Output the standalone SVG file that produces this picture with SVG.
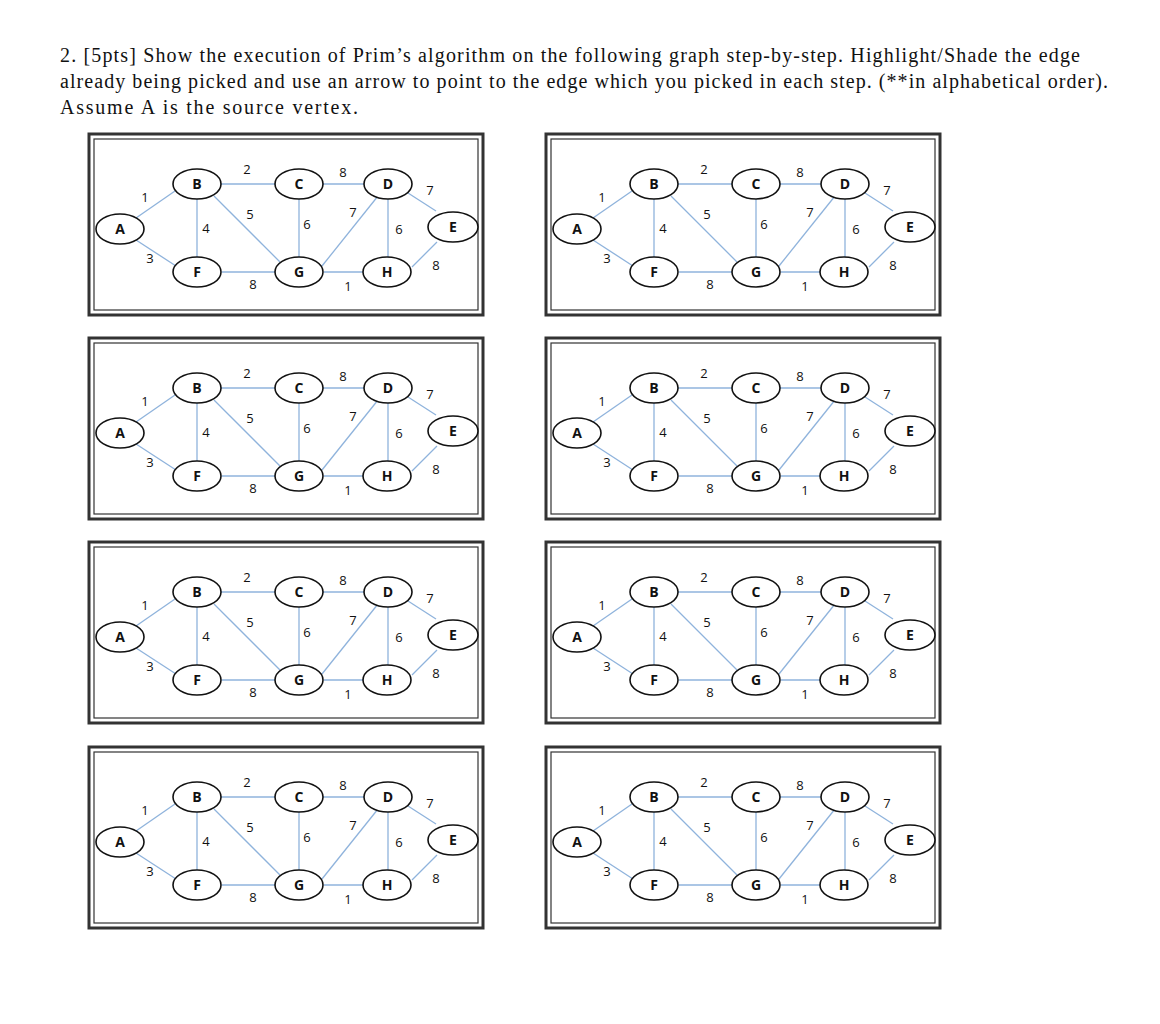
<svg xmlns="http://www.w3.org/2000/svg" xmlns:xlink="http://www.w3.org/1999/xlink" width="1160" height="1024" viewBox="0 0 1160 1024">
<style>
.t{font-family:"Liberation Serif",serif;font-size:20px;fill:#111}
.n ellipse{fill:#fff;stroke:#111;stroke-width:1.6}
.n text{font-family:"Open Sans","Liberation Sans",sans-serif;font-weight:bold;font-size:14px;text-anchor:middle;fill:#111}
.e line{stroke:#8fb3dc;stroke-width:1.3}
.w{font-family:"Open Sans","Liberation Sans",sans-serif;font-size:13px;text-anchor:middle;fill:#111}
.f1{fill:none;stroke:#333;stroke-width:3}
.f2{fill:none;stroke:#333;stroke-width:1.2}
</style>
<defs>
<g id="panel">
<rect class="f1" x="89" y="134" width="394" height="181"/>
<rect class="f2" x="94" y="139" width="384" height="171"/>
<g class="e" id="connectors">
<line x1="136" y1="218" x2="175" y2="191"/>
<line x1="136" y1="240" x2="176" y2="266"/>
<line x1="221" y1="184" x2="275" y2="184"/>
<line x1="197" y1="199" x2="197" y2="257"/>
<line x1="214" y1="196" x2="280" y2="262"/>
<line x1="299" y1="199" x2="299" y2="257"/>
<line x1="323" y1="184" x2="364" y2="184"/>
<line x1="322" y1="266" x2="378" y2="196"/>
<line x1="388" y1="199" x2="388" y2="257"/>
<line x1="408" y1="193" x2="436" y2="211"/>
<line x1="222" y1="272" x2="275" y2="272"/>
<line x1="324" y1="272" x2="363" y2="272"/>
<line x1="412" y1="267" x2="437" y2="242"/>
</g>
<g class="n" id="A"><ellipse cx="120" cy="229" rx="24" ry="15"/><text x="120" y="234">A</text></g>
<g class="n" id="B"><ellipse cx="197" cy="184" rx="24" ry="15"/><text x="197" y="189">B</text></g>
<g class="n" id="C"><ellipse cx="299" cy="184" rx="24" ry="15"/><text x="299" y="189">C</text></g>
<g class="n" id="D"><ellipse cx="388" cy="184" rx="24" ry="15"/><text x="388" y="189">D</text></g>
<g class="n" id="E"><ellipse cx="453" cy="227" rx="25" ry="15"/><text x="453" y="232">E</text></g>
<g class="n" id="F"><ellipse cx="197" cy="272" rx="24" ry="15"/><text x="197" y="277">F</text></g>
<g class="n" id="G"><ellipse cx="299" cy="272" rx="24" ry="15"/><text x="299" y="277">G</text></g>
<g class="n" id="H"><ellipse cx="387" cy="272" rx="24" ry="15"/><text x="387" y="277">H</text></g>
<text class="w" x="145" y="202">1</text>
<text class="w" x="150" y="263">3</text>
<text class="w" x="247" y="174">2</text>
<text class="w" x="206" y="233">4</text>
<text class="w" x="250" y="219">5</text>
<text class="w" x="307" y="229">6</text>
<text class="w" x="343" y="177">8</text>
<text class="w" x="353" y="217">7</text>
<text class="w" x="399" y="234">6</text>
<text class="w" x="430" y="195">7</text>
<text class="w" x="436" y="270">8</text>
<text class="w" x="253" y="289">8</text>
<text class="w" x="348" y="291">1</text>
</g>
</defs>
<text class="t" x="60" y="62" textLength="1020" lengthAdjust="spacing">2. [5pts] Show the execution of Prim’s algorithm on the following graph step-by-step. Highlight/Shade the edge</text>
<text class="t" x="60" y="88" textLength="1048" lengthAdjust="spacing">already being picked and use an arrow to point to the edge which you picked in each step. (**in alphabetical order).</text>
<text class="t" x="60" y="114" textLength="298" lengthAdjust="spacing">Assume A is the source vertex.</text>
<use xlink:href="#panel"/>
<use xlink:href="#panel" x="457"/>
<use xlink:href="#panel" y="204"/>
<use xlink:href="#panel" x="457" y="204"/>
<use xlink:href="#panel" y="408"/>
<use xlink:href="#panel" x="457" y="408"/>
<use xlink:href="#panel" y="613"/>
<use xlink:href="#panel" x="457" y="613"/>
</svg>
